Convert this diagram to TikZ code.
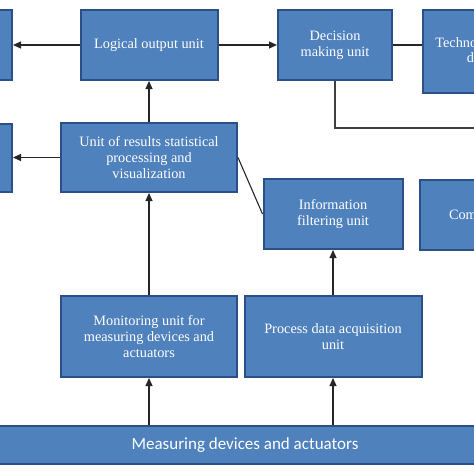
\documentclass[tikz,border=0pt]{standalone}
\usepackage{fontspec}
\setmainfont{Liberation Serif}
\newfontfamily\barfont{Carlito}
\usetikzlibrary{arrows.meta}
\definecolor{unitfill}{HTML}{4F81BD}
\definecolor{unitedge}{HTML}{2B4F87}

\begin{document}
\begin{tikzpicture}[x=1pt,y=-1pt,
  unit/.style={draw=unitedge, line width=2pt, fill=unitfill, text=white, align=center, inner sep=0pt,
    font=\fontsize{14.3}{15.8}\selectfont},
  link/.style={line width=1.1pt, color=black!85},
  arr/.style={link, -{Triangle[length=8pt,width=7pt]}}]
\useasboundingbox (0,0) rectangle (474,474);
\clip (0,0) rectangle (474,474);

% top row
\node[unit, minimum width=122pt, minimum height=70pt] (outA) at (-49,45) {};
\node[unit, minimum width=137pt, minimum height=70pt] (logic) at (149,45) {Logical output unit};
\node[unit, minimum width=114pt, minimum height=70pt] (decision) at (335,45) {Decision\\making unit};
\node[unit, minimum width=152pt, minimum height=83pt] (techn) at (499,51.5) {Technological process\\diagnostics};

% middle row
\node[unit, minimum width=122pt, minimum height=68pt] (outB) at (-49,157.5) {};
\node[unit, minimum width=176pt, minimum height=69pt] (stats) at (149,157.5) {Unit of results statistical\\processing and\\visualization};
\node[unit, minimum width=139pt, minimum height=70pt] (filter) at (333,214) {Information\\filtering unit};
\node[unit, minimum width=176pt, minimum height=70pt] (comp) at (508,215) {Communication unit};

% lower row
\node[unit, minimum width=176pt, minimum height=81pt] (monitor) at (149,336.5) {Monitoring unit for\\measuring devices and\\actuators};
\node[unit, minimum width=177pt, minimum height=81pt] (acquire) at (333,336.5) {Process data acquisition\\unit};
\node[unit, minimum width=540pt, minimum height=38pt, font=\barfont\fontsize{17}{19}\selectfont] (devices) at (245,445) {Measuring devices and actuators};

\coordinate (feedR) at (480,128);

\draw[arr] (logic.west) -- (outA.east);
\draw[arr] (logic.east) -- (decision.west);
\draw[link] (decision.east) -- (decision.east -| techn.west);
\draw[link, line width=1.4pt, color=black!75] (decision.south) |- (feedR);
\draw[arr] (stats.north) -- (logic.south);
\draw[arr] (stats.west) -- (outB.east);
\draw[link] (stats.east) -- (filter.west);
\draw[arr] (monitor.north) -- (stats.south);
\draw[arr] (acquire.north) -- (filter.south);
\draw[arr] (monitor.south |- devices.north) -- (monitor.south);
\draw[arr] (acquire.south |- devices.north) -- (acquire.south);
\end{tikzpicture}
\end{document}
